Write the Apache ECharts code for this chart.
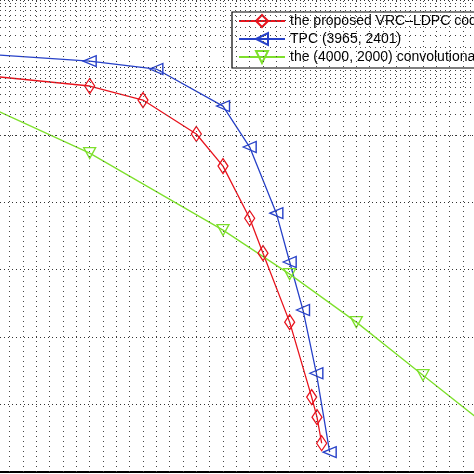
<!DOCTYPE html><html><head><meta charset="utf-8"><script src="https://cdn.jsdelivr.net/npm/echarts@6/dist/echarts.min.js"></script>
<style>html,body{margin:0;padding:0;background:#fff}#c{width:474px;height:474px}</style></head><body><div id="c"></div><script>
const names=['the proposed VRC\u2013LDPC codes','TPC (3965, 2401)','the (4000, 2000) convolutional codes'];
const redX=[-1,1,1.8,2.6,3,3.4,3.6,4,4.33,4.41,4.48];
const redY=[0.0837,0.053,0.0328,0.0103,0.00344,5.8e-4,1.76e-4,1.67e-5,1.29e-6,6.5e-7,2.67e-7];
const blueX=[-1,1,2,3,3.4,3.8,4,4.2,4.4,4.6];
const blueY=[0.169,0.124,0.0947,0.0267,0.00659,6.9e-4,1.3e-4,2.52e-5,2.92e-6,1.97e-7];
const greenX=[-1,1,3,4,5,6,7];
const greenY=[0.0432,0.00537,3.87e-4,8.6e-5,1.67e-5,2.73e-6,4.47e-7];
const minorLevels=[];
for(let d=0;d>=-7;d--)for(let k=2;k<=9;k++)minorLevels.push(k*Math.pow(10,d-1));
const xGrid=[];
for(let i=-1;i<=33;i++)xGrid.push(+(i*0.2).toFixed(1));
const zip=(a,b)=>a.map((v,i)=>[v,b[i]]);
const mk=(name,color,x,y,symbol,rot,size)=>({name,type:'line',data:zip(x,y),color,symbol,symbolRotate:rot,symbolSize:size,
 lineStyle:{width:1.3,color},itemStyle:{color:'rgba(255,255,255,0)',borderColor:color,borderWidth:1.3},animation:false,z:3});
const s1=mk(names[0],'#e8141e',redX,redY,'diamond',0,[10,15]);
const s2=mk(names[1],'#2741c8',blueX,blueY,'triangle',90,[11,13]);
const s3=mk(names[2],'#7ee02c',greenX,greenY,'triangle',180,[12,11]);
s1.markLine={silent:true,symbol:'none',label:{show:false},lineStyle:{color:'#444',type:[1,4],width:1},
 data:minorLevels.map(v=>({yAxis:v})).concat(xGrid.map(v=>({xAxis:v})))};
const ch=echarts.init(document.getElementById('c'));
ch.setOption({animation:false,
 grid:{left:0,right:0,top:0,bottom:2},
 legend:{orient:'vertical',left:232,top:12,itemWidth:46,itemHeight:15,itemGap:4,backgroundColor:'#fff',borderColor:'#000',borderWidth:1.2,padding:[2,6,4,6],borderRadius:0,
  textStyle:{fontFamily:'Liberation Sans, Arial',fontSize:14,color:'#000'}},
 xAxis:{type:'value',min:-0.345,max:6.765,axisLabel:{show:false},axisTick:{show:false},axisLine:{show:true,lineStyle:{color:'#000',width:2}},splitLine:{show:false}},
 yAxis:{type:'log',min:1e-7,max:1,logBase:10,axisLabel:{show:false},axisTick:{show:false},axisLine:{show:false},
  splitLine:{show:true,lineStyle:{color:'#333',type:[1,3],width:1}}},
 series:[s1,s2,s3]});
</script></body></html>
